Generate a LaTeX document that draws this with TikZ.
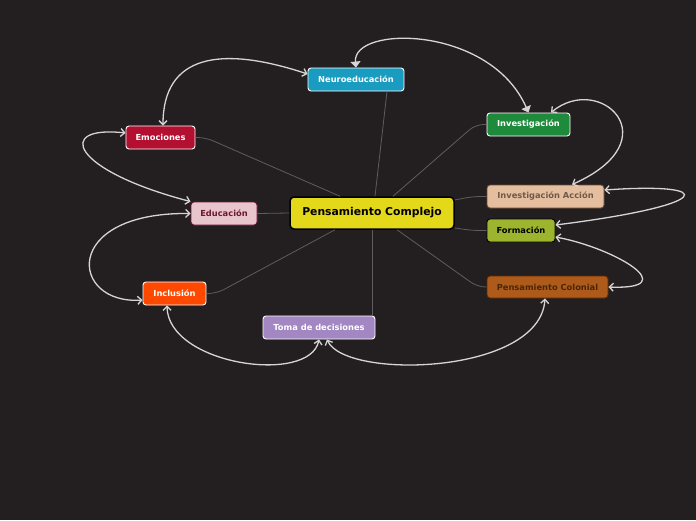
\documentclass[tikz,border=0pt]{standalone}
\usepackage{fontspec}
\setmainfont{DejaVu Sans}
\usetikzlibrary{arrows.meta}
\definecolor{bg}{HTML}{231F20}
\definecolor{link}{HTML}{5E5C5D}
\definecolor{rel}{HTML}{D6D4D5}
\definecolor{cCentral}{HTML}{E3D81A}
\definecolor{cNeuro}{HTML}{1A9BC0}
\definecolor{cInv}{HTML}{1E8A3C}
\definecolor{cEmo}{HTML}{B30F30}
\definecolor{cEdu}{HTML}{E8C4CC}
\definecolor{cEduT}{HTML}{6A1830}
\definecolor{cIA}{HTML}{E5BD9F}
\definecolor{cIAT}{HTML}{6E5A48}
\definecolor{cIAB}{HTML}{6B4A30}
\definecolor{cForm}{HTML}{9DB52E}
\definecolor{cPC}{HTML}{AE5A1A}
\definecolor{cPCT}{HTML}{4A2608}
\definecolor{cPCB}{HTML}{5A2A00}
\definecolor{cIncl}{HTML}{FF4800}
\definecolor{cToma}{HTML}{A287C2}
\tikzset{
  topic/.style={rounded corners=3pt, line width=0.9pt, minimum height=23pt, inner sep=0pt,
    font=\fontsize{8.3}{10}\selectfont\bfseries},
  centralbox/.style={rounded corners=4pt, line width=1.5pt, draw=black, fill=cCentral,
    minimum width=164pt, minimum height=32pt, inner sep=0pt,
    font=\fontsize{10.8}{13}\selectfont\bfseries},
  linkline/.style={draw=link, line width=0.8pt, rounded corners=8pt},
  relarrow/.style={draw=rel, line width=1.3pt, {Straight Barb[length=4pt,width=8pt]}-{Straight Barb[length=4pt,width=8pt]}},
  reltri/.style={draw=rel, line width=1.3pt, {Triangle[length=6pt,width=10pt]}-{Triangle[length=6pt,width=10pt]}}
}
\begin{document}
\begin{tikzpicture}[x=1pt,y=-1pt]
\fill[bg] (0,0) rectangle (696,520);
\useasboundingbox (0,0) rectangle (696,520);

\node[centralbox] (central) at (372,213) {Pensamiento Complejo};
\node[topic, fill=cNeuro, draw=white, text=white, minimum width=96pt] (neuro) at (356,79.5) {Neuroeducación};
\node[topic, fill=cInv, draw=white, text=white, minimum width=83pt] (inv) at (528.5,124.5) {Investigación};
\node[topic, fill=cEmo, draw=white, text=white, minimum width=69pt] (emo) at (160.5,137.5) {Emociones};
\node[topic, fill=cEdu, draw=cEduT, text=cEduT, minimum width=66pt] (edu) at (224,213.5) {Educación};
\node[topic, fill=cIA, draw=cIAB, text=cIAT, minimum width=117pt] (ia) at (545.5,196.5) {Investigación Acción};
\node[topic, fill=cForm, draw=black, text=black, minimum width=68pt] (form) at (521,230.5) {Formación};
\node[topic, fill=cPC, draw=cPCB, text=cPCT, minimum width=121pt, minimum height=22pt] (pc) at (547.5,287) {Pensamiento Colonial};
\node[topic, fill=cIncl, draw=white, text=white, minimum width=63pt] (incl) at (174.5,293.5) {Inclusión};
\node[topic, fill=cToma, draw=white, text=white, minimum width=112pt] (toma) at (319,327.5) {Toma de decisiones};

% links from the central topic
\draw[linkline] ([xshift=3pt]central.north) -- ([xshift=31pt]neuro.south);
\draw[linkline] ([xshift=21pt]central.north) -- ([xshift=-11pt]inv.west) -- (inv.west);
\draw[linkline] ([yshift=13pt]central.east) -- ([xshift=-14pt]ia.west) -- (ia.west);
\draw[linkline] ([yshift=-15pt]central.east) -- ([xshift=-14pt]form.west) -- (form.west);
\draw[linkline] ([xshift=25pt]central.south) -- ([xshift=-9pt]pc.west) -- (pc.west);
\draw[linkline] (emo.east) -- ([xshift=10pt]emo.east) -- ([xshift=-32pt]central.north);
\draw[linkline] (edu.east) -- (central.west);
\draw[linkline] (incl.east) -- ([xshift=10pt]incl.east) -- ([xshift=-37pt]central.south);
\draw[linkline] (central.south) -- ([xshift=53pt]toma.north);

% relationships
\draw[relarrow] ([xshift=2.5pt]emo.north) .. controls (163,55) and (220,45) .. ([yshift=5.5pt]neuro.west);
\draw[reltri] (neuro.north) .. controls (352,25) and (490,25) .. (inv.north);
\draw[relarrow] ([xshift=22.5pt]inv.north) .. controls (600,72) and (672,140) .. ([xshift=26.5pt]ia.north);
\draw[relarrow] ([yshift=6.5pt]ia.east) .. controls (720,182) and (715,205) .. ([yshift=5.5pt]form.east);
\draw[relarrow] ([yshift=-6.5pt]form.east) .. controls (615,248) and (685,290) .. (pc.east);
\draw[relarrow] ([yshift=4.5pt]emo.west) .. controls (55,125) and (70,170) .. (edu.north west);
\draw[relarrow] (edu.west) .. controls (60,212) and (70,305) .. ([yshift=-6.5pt]incl.west);
\draw[relarrow] ([xshift=-7.5pt]incl.south) .. controls (168,365) and (310,385) .. (toma.south);
\draw[relarrow] ([xshift=8pt]toma.south) .. controls (345,380) and (540,375) .. ([xshift=-2.5pt]pc.south);
\end{tikzpicture}
\end{document}
